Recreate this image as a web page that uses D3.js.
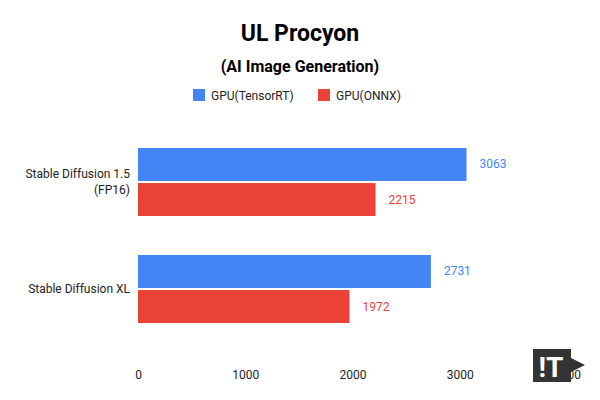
<!DOCTYPE html>
<html><head><meta charset="utf-8">
<script src="https://d3js.org/d3.v7.min.js"></script>
<style>body{margin:0;background:#fff}</style></head>
<body><svg id="c" width="600" height="400"></svg>
<script>
const categories = ["Stable Diffusion 1.5\n(FP16)", "Stable Diffusion XL"];
const seriesNames = ["GPU(TensorRT)", "GPU(ONNX)"];
const tensorRT = [3063, 2731];
const onnx = [2215, 1972];
const ticks = [0, 1000, 2000, 3000, 4000];
const colors = ["#4285f4", "#ea4335"];

const svg = d3.select("#c");
const font = "Roboto, Arial, sans-serif";
const x = d3.scaleLinear().domain([0, 4000]).range([138, 567]);
const y0 = d3.scaleBand().domain(categories).range([130, 344]).padding(0);
const y1 = d3.scaleBand().domain([0, 1]).range([18, 86]).paddingInner(0.06).paddingOuter(0);

svg.append("text").attr("x", 300).attr("y", 41).attr("text-anchor", "middle")
  .attr("font-family", font).attr("font-weight", "bold").attr("font-size", 23).text("UL Procyon");
svg.append("text").attr("x", 300).attr("y", 72).attr("text-anchor", "middle")
  .attr("font-family", font).attr("font-weight", "bold").attr("font-size", 16).text("(AI Image Generation)");

const leg = [{x: 193}, {x: 318}];
seriesNames.forEach((n, i) => {
  svg.append("rect").attr("x", leg[i].x).attr("y", 89).attr("width", 12).attr("height", 12).attr("fill", colors[i]);
  svg.append("text").attr("x", leg[i].x + 18).attr("y", 99.5).attr("font-family", font)
    .attr("font-size", 12).attr("fill", "#222").text(n);
});

const data = categories.map((c, i) => ({c, v: [tensorRT[i], onnx[i]]}));
data.forEach(d => {
  d.v.forEach((v, j) => {
    const yy = y0(d.c) + y1(j);
    svg.append("rect").attr("x", x(0)).attr("y", yy).attr("width", x(v) - x(0))
      .attr("height", y1.bandwidth()).attr("fill", colors[j]);
    svg.append("text").attr("x", x(v) + 13).attr("y", yy + y1.bandwidth() / 2 + 4)
      .attr("font-family", font).attr("font-size", 12).attr("fill", colors[j]).text(v);
  });
  const lines = d.c.split("\n");
  const cy = y0(d.c) + 52;
  lines.forEach((l, k) => {
    svg.append("text").attr("x", 130).attr("y", cy + 4 + (k - (lines.length - 1) / 2) * 16)
      .attr("text-anchor", "end").attr("font-family", font).attr("font-size", 12).attr("fill", "#222").text(l);
  });
});

const ax = svg.append("g").attr("transform", "translate(0,370)")
  .call(d3.axisBottom(x).tickValues(ticks).tickSize(0).tickPadding(0).tickFormat(d3.format("d")));
ax.select(".domain").remove();
ax.selectAll("text").attr("font-family", font).attr("font-size", 12).attr("fill", "#222");

// logo
const lg = svg.append("g");
lg.append("rect").attr("x", 533).attr("y", 349).attr("width", 38).attr("height", 33).attr("fill", "#333");
lg.append("path").attr("d", "M571,358 L585,365 L571,372 Z").attr("fill", "#333");
lg.append("text").attr("x", 551).attr("y", 377).attr("text-anchor", "middle").attr("font-family", font)
  .attr("font-weight", "bold").attr("font-size", 28).attr("fill", "#fff").text("!T");
</script></body></html>
